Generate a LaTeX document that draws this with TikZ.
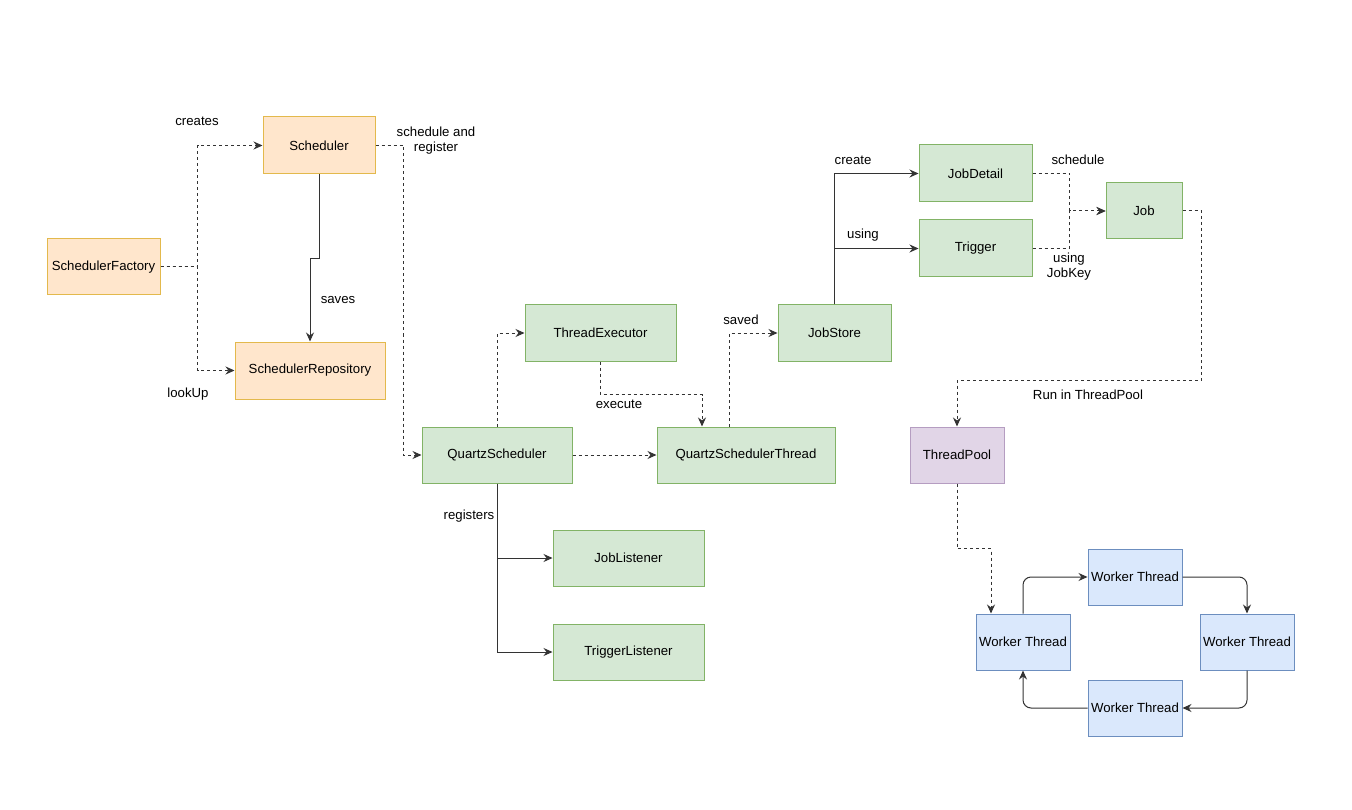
\documentclass[tikz,border=0pt]{standalone}
\usepackage{fontspec}
\setmainfont{Liberation Sans}
\usetikzlibrary{arrows.meta}
\definecolor{ofill}{HTML}{FFE6CC}\definecolor{odraw}{HTML}{D79B00}
\definecolor{gfill}{HTML}{D5E8D4}\definecolor{gdraw}{HTML}{82B366}
\definecolor{pfill}{HTML}{E1D5E7}\definecolor{pdraw}{HTML}{9673A6}
\definecolor{bfill}{HTML}{DAE8FC}\definecolor{bdraw}{HTML}{6C8EBF}
\definecolor{edge}{HTML}{333333}
\tikzset{
  box/.style={draw, line width=1pt, inner sep=0pt, align=center, font=\fontsize{13.2}{15}\selectfont},
  obox/.style={box, fill=ofill, draw=odraw!70},
  gbox/.style={box, fill=gfill, draw=gdraw},
  pbox/.style={box, fill=pfill, draw=pdraw!70},
  bbox/.style={box, fill=bfill, draw=bdraw},
  lbl/.style={inner sep=0pt, align=center, font=\fontsize{13.2}{15}\selectfont},
  conn/.style={draw=edge, line width=1pt, -{Stealth[length=9pt,width=8pt,inset=3pt]}},
  dconn/.style={conn, dash pattern=on 3pt off 3pt},
}
\begin{document}
\begin{tikzpicture}[x=1pt,y=-1pt]
\useasboundingbox[fill=white] (0,0) rectangle (1352,810);
% nodes
\node[obox, minimum width=113, minimum height=56] (sf) at (103.5,267) {SchedulerFactory};
\node[obox, minimum width=112, minimum height=57] (sch) at (319,145.5) {Scheduler};
\node[obox, minimum width=150, minimum height=57] (repo) at (310,370.5) {SchedulerRepository};
\node[gbox, minimum width=150, minimum height=56] (qs) at (497,455) {QuartzScheduler};
\node[gbox, minimum width=151, minimum height=56] (te) at (600.5,333) {ThreadExecutor};
\node[gbox, minimum width=178, minimum height=56] (qst) at (746,455) {QuartzSchedulerThread};
\node[gbox, minimum width=151, minimum height=56] (jl) at (628.5,558) {JobListener};
\node[gbox, minimum width=151, minimum height=56] (tl) at (628.5,652) {TriggerListener};
\node[gbox, minimum width=113, minimum height=56] (js) at (834.5,333) {JobStore};
\node[gbox, minimum width=113, minimum height=57] (jd) at (975.5,173.5) {JobDetail};
\node[gbox, minimum width=113, minimum height=57] (tr) at (975.5,248.5) {Trigger};
\node[gbox, minimum width=76, minimum height=56] (job) at (1144,211) {Job};
\node[pbox, minimum width=94, minimum height=56] (tp) at (957,455) {ThreadPool};
\node[bbox, minimum width=94, minimum height=56] (wt) at (1135,577) {Worker Thread};
\node[bbox, minimum width=94, minimum height=56] (wl) at (1023,642) {Worker Thread};
\node[bbox, minimum width=94, minimum height=56] (wr) at (1247,642) {Worker Thread};
\node[bbox, minimum width=94, minimum height=56] (wb) at (1135,708) {Worker Thread};
% connectors
\draw[dconn] (sf.east) -- ++(37,0) |- (sch.west);
\draw[dconn] (sf.east) -- ++(37,0) |- (repo.west);
\draw[conn] (sch.south) -- ++(0,84) -| (repo.north);
\draw[dconn] (sch.east) -- ++(28,0) |- (qs.west);
\draw[dconn] (qs.north) |- (te.west);
\draw[dconn] (te.south) -- ++(0,33) -| ([xshift=-44pt]qst.north);
\draw[dconn] (qs.east) -- (qst.west);
\draw[dconn] ([xshift=-17pt]qst.north) |- (js.west);
\draw[conn] (js.north) |- (jd.west);
\draw[conn] (js.north) |- (tr.west);
\draw[dconn] (jd.east) -- ++(37,0) |- (job.west);
\draw[dconn] (tr.east) -- ++(37,0) |- (job.west);
\draw[dconn] (job.east) -- ++(19,0) -- ++(0,169) -| (tp.north);
\draw[dconn] (tp.south) -- ++(0,65) -| ([xshift=-32pt]wl.north);
\draw[conn] (qs.south) |- (jl.west);
\draw[conn] (qs.south) |- (tl.west);
\draw[conn, rounded corners=8pt] (wl.north) |- (wt.west);
\draw[conn, rounded corners=8pt] (wt.east) -| (wr.north);
\draw[conn, rounded corners=8pt] (wr.south) |- (wb.east);
\draw[conn, rounded corners=8pt] (wb.west) -| (wl.south);
% labels
\node[lbl] (l1) at (197,121) {creates};
\node[lbl] (l2) at (188,394) {lookUp};
\node[lbl] (l3) at (338,300) {saves};
\node[lbl] (l4) at (436,141) {schedule and\\register};
\node[lbl] (l5) at (619,404) {execute};
\node[lbl] (l6) at (741,320) {saved};
\node[lbl] (l7) at (853,160) {create};
\node[lbl] (l8) at (863,235) {using};
\node[lbl] (l9) at (1078,160) {schedule};
\node[lbl] (l10) at (1069,267) {using\\JobKey};
\node[lbl] (l11) at (1088,395) {Run in ThreadPool};
\node[lbl] (l12) at (469,516) {registers};
\end{tikzpicture}
\end{document}
